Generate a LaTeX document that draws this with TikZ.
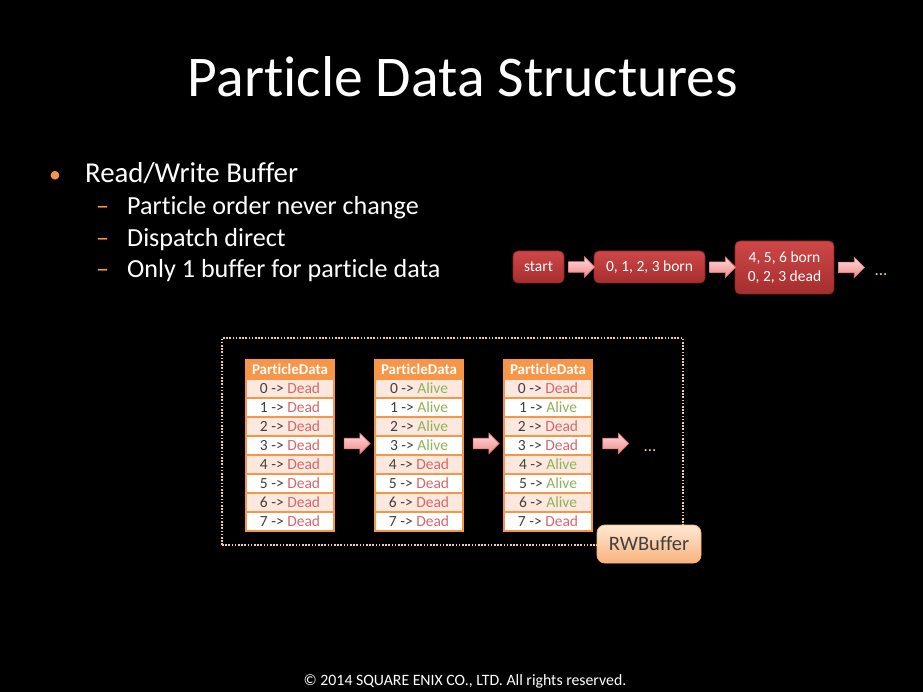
\documentclass[tikz,border=0pt]{standalone}
\usepackage{fontspec}
\setmainfont{Carlito}[Ligatures=NoCommon]
\usetikzlibrary{shapes.arrows,calc}
\definecolor{orng}{HTML}{F79646}
\definecolor{tint}{HTML}{FCE8DE}
\definecolor{deadc}{HTML}{D6686A}
\definecolor{alivec}{HTML}{8DB356}
\definecolor{numc}{HTML}{404040}
\definecolor{redtop}{HTML}{CE4747}
\definecolor{redbot}{HTML}{A52E2E}
\definecolor{redline}{HTML}{8E2626}
\definecolor{pinktop}{HTML}{FDDADA}
\definecolor{pinkbot}{HTML}{F08A8A}
\definecolor{pinkline}{HTML}{E07272}
\definecolor{tan}{HTML}{F2C8A0}
\definecolor{rwtop}{HTML}{FEE8D4}
\definecolor{rwbot}{HTML}{F9B27C}
\tikzset{
  titletext/.style={text=white,inner sep=0pt,font=\fontsize{57.6}{64}\selectfont},
  lvlone/.style={text=white,inner sep=0pt,font=\fontsize{28.8}{32}\selectfont},
  lvltwo/.style={text=white,inner sep=0pt,font=\fontsize{26.1}{30}\selectfont},
  bulmark/.style={text=orng,inner sep=0pt},
  flowbox/.style={rounded corners=5pt,top color=redtop,bottom color=redbot,draw=redline,line width=0.8pt,text=white,inner sep=0pt,align=center,font=\fontsize{15.5}{19}\selectfont},
  blockarrow/.style={single arrow,single arrow head extend=5pt,inner sep=5pt,minimum height=26pt,top color=pinktop,bottom color=pinkbot,draw=pinkline,line width=0.6pt},
  thead/.style={fill=orng,draw=orng,line width=1.2pt,minimum width=88pt,minimum height=19pt,inner sep=0pt,text=white,font=\bfseries\fontsize{15}{16}\selectfont},
  trow/.style={draw=orng,line width=1.2pt,minimum width=88pt,minimum height=19pt,inner sep=0pt,text=numc,font=\fontsize{15.5}{16}\selectfont},
  dotbox/.style={draw=tan,line width=1.6pt,dash pattern=on 1.6pt off 1.6pt},
  rwbox/.style={rounded corners=8pt,top color=rwtop,bottom color=rwbot,draw=orng!70,line width=0.8pt,text=numc,minimum width=104pt,minimum height=38pt,inner sep=0pt,font=\fontsize{20.5}{22}\selectfont},
  dotstext/.style={text=tan,inner sep=0pt,font=\fontsize{17}{18}\selectfont}
}
\def\stD{\textcolor{deadc}{Dead}}
\def\stA{\textcolor{alivec}{Alive}}
\newcommand\ptable[3]{%
  \node[thead] (#1h) at (#2,369.5) {ParticleData};
  \foreach \s [count=\i from 0] in {#3} {
    \ifodd\i\def\rf{white}\else\def\rf{tint}\fi
    \pgfmathsetmacro\yy{388.5+19*\i}
    \node[trow,fill=\rf] (#1r\i) at (#2,\yy) {\i{} -> \csname st\s\endcsname};
  }
}
\begin{document}
\begin{tikzpicture}[x=1pt,y=-1pt]
\fill[black] (0,0) rectangle (923,692);
\useasboundingbox (0,0) rectangle (923,692);
% title
\node[titletext,anchor=base] (title) at (463,97) {Particle Data Structures};
% bullets
\node[bulmark,anchor=base,font=\fontsize{24}{32}\selectfont] (bul0) at (55,183) {•};
\node[lvlone,anchor=base west] (txt0) at (85,183) {Read/Write Buffer};
\node[bulmark,anchor=base west,font=\fontsize{26.1}{30}\selectfont] (dash1) at (96,215) {–};
\node[lvltwo,anchor=base west] (txt1) at (127,215) {Particle order never change};
\node[bulmark,anchor=base west,font=\fontsize{26.1}{30}\selectfont] (dash2) at (96,247) {–};
\node[lvltwo,anchor=base west] (txt2) at (127,247) {Dispatch direct};
\node[bulmark,anchor=base west,font=\fontsize{26.1}{30}\selectfont] (dash3) at (96,278) {–};
\node[lvltwo,anchor=base west] (txt3) at (127,278) {Only 1 buffer for particle data};
% flow
\node[flowbox,minimum width=51pt,minimum height=32pt] (start) at (538.5,267) {start};
\node[flowbox,minimum width=111pt,minimum height=32pt] (fb1) at (649.5,267) {0, 1, 2, 3 born};
\node[flowbox,minimum width=99pt,minimum height=53pt] (fb2) at (784.5,267.5) {4, 5, 6 born\\0, 2, 3 dead};
\node[blockarrow] (fa1) at ($(start.east)!0.5!(fb1.west)$) {};
\node[blockarrow] (fa2) at ($(fb1.east)!0.5!(fb2.west)$) {};
\node[blockarrow] (fa3) at ([xshift=14.5pt]fb2.east) {};
\node[dotstext,anchor=base] (fdots) at (881,276) {...};
% frame
\node[dotbox,minimum width=461pt,minimum height=207pt,inner sep=0pt] (frame) at (452.5,441.5) {};
% tables
\ptable{ta}{290}{D,D,D,D,D,D,D,D}
\ptable{tb}{419}{A,A,A,A,D,D,D,D}
\ptable{tc}{548}{D,A,D,D,A,A,A,D}
\node[blockarrow,yshift=2pt] (ba1) at ($(tar3.east)!0.5!(tbr3.west)$) {};
\node[blockarrow,yshift=2pt] (ba2) at ($(tbr3.east)!0.5!(tcr3.west)$) {};
\node[blockarrow,yshift=2pt] (ba3) at ([xshift=20.5pt]tcr3.east) {};
\node[dotstext,anchor=base] (bdots) at (650,451) {...};
% RW buffer label
\node[rwbox] (rw) at (649,544) {RWBuffer};
% footer
\node[text=white,inner sep=0pt,anchor=base,font=\fontsize{15.8}{18}\selectfont] (foot) at (465,685) {© 2014 SQUARE ENIX CO., LTD. All rights reserved.};
\end{tikzpicture}
\end{document}
